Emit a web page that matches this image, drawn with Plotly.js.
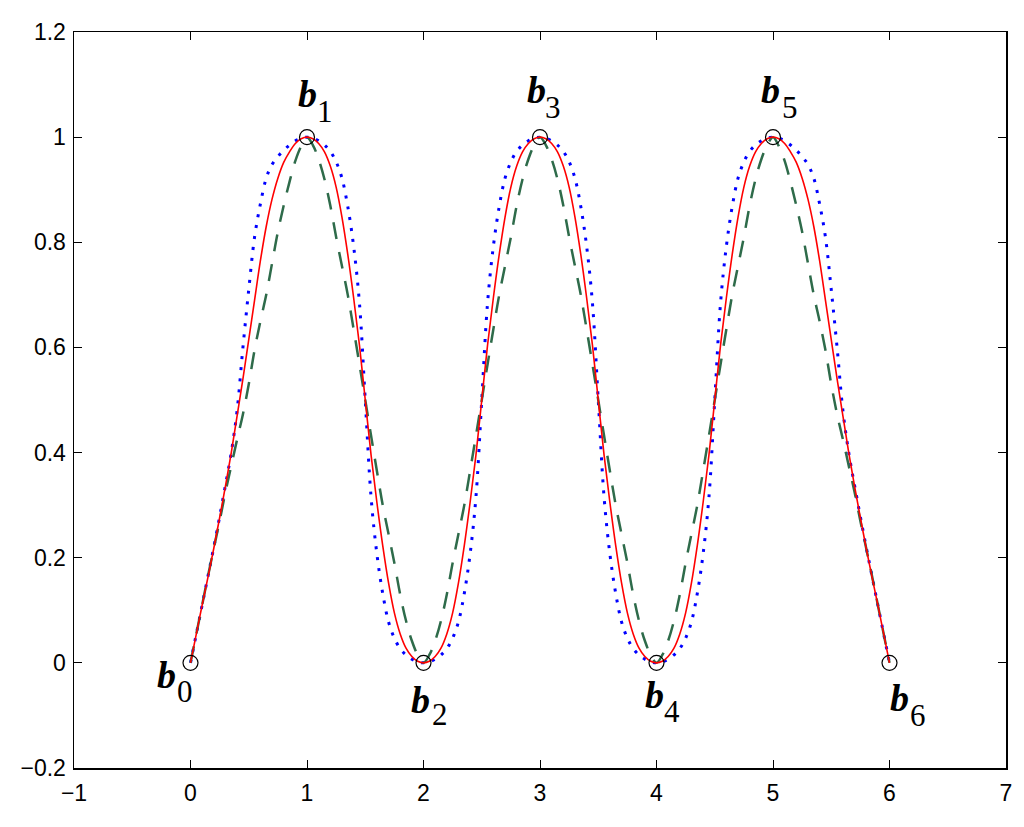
<!DOCTYPE html>
<html>
<head>
<meta charset="utf-8">
<script src="https://cdn.plot.ly/plotly-3.0.1.min.js"></script>
<style>html,body{margin:0;padding:0;background:#fff;}#chart{width:1024px;height:827px;}</style>
</head>
<body>
<div id="chart"></div>
<script>
// sample positions along x
const xs = [0,0.05,0.1,0.15,0.2,0.25,0.3,0.35,0.4,0.45,0.5,0.55,0.6,0.65,0.7,0.75,0.8,0.85,0.9,0.95,
  1,1.05,1.1,1.15,1.2,1.25,1.3,1.35,1.4,1.45,1.5,1.55,1.6,1.65,1.7,1.75,1.8,1.85,1.9,1.95,
  2,2.05,2.1,2.15,2.2,2.25,2.3,2.35,2.4,2.45,2.5,2.55,2.6,2.65,2.7,2.75,2.8,2.85,2.9,2.95,
  3,3.05,3.1,3.15,3.2,3.25,3.3,3.35,3.4,3.45,3.5,3.55,3.6,3.65,3.7,3.75,3.8,3.85,3.9,3.95,
  4,4.05,4.1,4.15,4.2,4.25,4.3,4.35,4.4,4.45,4.5,4.55,4.6,4.65,4.7,4.75,4.8,4.85,4.9,4.95,
  5,5.05,5.1,5.15,5.2,5.25,5.3,5.35,5.4,5.45,5.5,5.55,5.6,5.65,5.7,5.75,5.8,5.85,5.9,5.95,6];

// red solid curve
const redY = [0,0.055,0.11,0.163,0.218,0.276,0.336,0.4,0.47,0.54,0.615,0.69,0.765,0.83,0.882,0.922,0.952,0.972,0.988,0.997,
  1,0.997,0.988,0.972,0.945,0.905,0.848,0.777,0.695,0.605,0.5,0.395,0.305,0.223,0.152,0.095,0.055,0.028,0.012,0.003,
  0,0.003,0.012,0.028,0.055,0.095,0.152,0.223,0.305,0.395,0.5,0.605,0.695,0.777,0.848,0.905,0.945,0.972,0.988,0.997,
  1,0.997,0.988,0.972,0.945,0.905,0.848,0.777,0.695,0.605,0.5,0.395,0.305,0.223,0.152,0.095,0.055,0.028,0.012,0.003,
  0,0.003,0.012,0.028,0.055,0.095,0.152,0.223,0.305,0.395,0.5,0.605,0.695,0.777,0.848,0.905,0.945,0.972,0.988,0.997,
  1,0.997,0.988,0.972,0.952,0.922,0.882,0.83,0.765,0.69,0.615,0.54,0.47,0.4,0.336,0.276,0.218,0.163,0.11,0.055,0];

// blue dotted curve
const blueY = [0,0.055,0.11,0.165,0.22,0.278,0.338,0.4,0.48,0.6,0.71,0.81,0.873,0.922,0.948,0.963,0.975,0.985,0.993,0.998,
  1,0.998,0.993,0.985,0.973,0.953,0.922,0.868,0.793,0.685,0.5,0.315,0.207,0.132,0.078,0.047,0.027,0.015,0.007,0.002,
  0,0.002,0.007,0.015,0.027,0.047,0.078,0.132,0.207,0.315,0.5,0.685,0.793,0.868,0.922,0.953,0.973,0.985,0.993,0.998,
  1,0.998,0.993,0.985,0.973,0.953,0.922,0.868,0.793,0.685,0.5,0.315,0.207,0.132,0.078,0.047,0.027,0.015,0.007,0.002,
  0,0.002,0.007,0.015,0.027,0.047,0.078,0.132,0.207,0.315,0.5,0.685,0.793,0.868,0.922,0.953,0.973,0.985,0.993,0.998,
  1,0.998,0.993,0.985,0.975,0.963,0.948,0.922,0.873,0.81,0.71,0.6,0.48,0.4,0.338,0.278,0.22,0.165,0.11,0.055,0];

// green dashed curve
const greenY = [0,0.055,0.11,0.165,0.218,0.27,0.325,0.375,0.425,0.473,0.53,0.595,0.65,0.7,0.76,0.82,0.87,0.915,0.955,0.983,
  1,0.985,0.958,0.92,0.87,0.81,0.755,0.7,0.635,0.568,0.5,0.432,0.365,0.3,0.245,0.19,0.13,0.08,0.042,0.015,
  0,0.015,0.042,0.08,0.13,0.19,0.245,0.3,0.365,0.432,0.5,0.568,0.635,0.7,0.755,0.81,0.87,0.92,0.958,0.985,
  1,0.985,0.958,0.92,0.87,0.81,0.755,0.7,0.635,0.568,0.5,0.432,0.365,0.3,0.245,0.19,0.13,0.08,0.042,0.015,
  0,0.015,0.042,0.08,0.13,0.19,0.245,0.3,0.365,0.432,0.5,0.568,0.635,0.7,0.755,0.81,0.87,0.92,0.958,0.985,
  1,0.983,0.955,0.915,0.87,0.82,0.76,0.7,0.65,0.595,0.53,0.473,0.425,0.375,0.325,0.27,0.218,0.165,0.11,0.055,0];

// control points
const bX = [0,1,2,3,4,5,6];
const bY = [0,1,0,1,0,1,0];
const bLabels = ['0','1','2','3','4','5','6'];
// label anchor positions (letter "b" and its index)
const letterX = [-0.21,1.0,1.978,2.974,3.98,4.98,6.09];
const letterY = [-0.023,1.082,-0.07,1.089,-0.061,1.089,-0.067];
const indexX = [-0.047,1.155,2.14,3.11,4.13,5.15,6.245];
const indexY = [-0.055,1.048,-0.099,1.057,-0.093,1.057,-0.1];

const traces = [
  {x: xs, y: blueY, mode:'lines', line:{color:'#0000ff', width:3, dash:'3px,8px', shape:'spline', smoothing:1}, hoverinfo:'skip'},
  {x: xs, y: greenY, mode:'lines', line:{color:'#2e6b4a', width:2.5, dash:'17px,13px', shape:'spline', smoothing:1}, hoverinfo:'skip'},
  {x: xs, y: redY, mode:'lines', line:{color:'#ff0000', width:1.6, shape:'spline', smoothing:1}, hoverinfo:'skip'},
  {x: bX, y: bY, mode:'markers', marker:{symbol:'circle-open', size:15, color:'#000', line:{width:1.2, color:'#000'}}, hoverinfo:'skip'}
];

const serif = 'Liberation Serif, Times New Roman, serif';
const annotations = [];
bLabels.forEach((s,i)=>{
  annotations.push({x: letterX[i], y: letterY[i], xref:'x', yref:'y', showarrow:false,
    text:'<b><i>b</i></b>', font:{family:serif, size:38, color:'#000'}});
  annotations.push({x: indexX[i], y: indexY[i], xref:'x', yref:'y', showarrow:false,
    text:s, font:{family:serif, size:31, color:'#000'}});
});

const axisCommon = {
  showgrid:false, zeroline:false, showline:true, linecolor:'#000', linewidth:1.5,
  mirror:'ticks', ticks:'inside', ticklen:8, tickwidth:1, tickcolor:'#000',
  tickfont:{family:'Liberation Sans, Arial, sans-serif', size:23, color:'#000'}
};

const layout = {
  width:1024, height:827,
  margin:{l:74, r:18, t:32, b:59},
  paper_bgcolor:'#fff', plot_bgcolor:'#fff',
  showlegend:false,
  xaxis: Object.assign({}, axisCommon, {range:[-1,7], tickmode:'linear', tick0:-1, dtick:1, ticklabelstandoff:4}),
  yaxis: Object.assign({}, axisCommon, {range:[-0.2,1.2], tickmode:'linear', tick0:-0.2, dtick:0.2, ticklabelstandoff:2}),
  annotations: annotations
};

Plotly.newPlot('chart', traces, layout, {staticPlot:true, displayModeBar:false});
</script>
</body>
</html>
